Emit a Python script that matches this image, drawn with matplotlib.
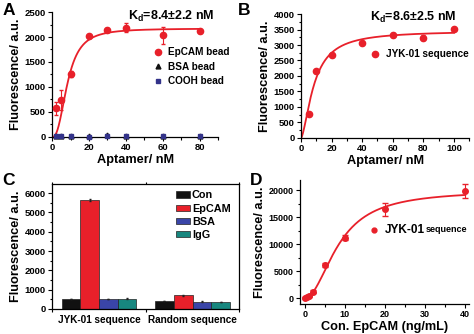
import numpy as np
import matplotlib
matplotlib.use("Agg")
import matplotlib.pyplot as plt
from matplotlib.ticker import MultipleLocator
from matplotlib.lines import Line2D

plt.rcParams['font.family'] = ['Liberation Sans', 'DejaVu Sans']
plt.rcParams['font.weight'] = 'bold'
plt.rcParams['mathtext.fontset'] = 'custom'
plt.rcParams['mathtext.rm'] = 'Liberation Sans:bold'
plt.rcParams['mathtext.bf'] = 'Liberation Sans:bold'

RED = '#e8202a'
NAVY = '#33338a'

# ---- Panel A data ----
a_x = [2, 5, 10, 20, 30, 40, 60, 80]
a_epcam = [570, 730, 1250, 2020, 2150, 2190, 2040, 2120]
a_epcam_err = [130, 200, 60, 30, 40, 90, 170, 30]
a_bsa = [15, 25, 20, 10, 30, 15, 15, 15]
a_cooh = [10, 15, 15, 5, 25, 10, 10, 10]
a_fit = dict(bmax=2170, kd=8.4, n=2.5)

# ---- Panel B data ----
b_x = [5, 10, 20, 40, 60, 80, 100]
b_y = [780, 2150, 2680, 3080, 3320, 3230, 3520]
b_err = [40, 40, 60, 60, 70, 80, 40]
b_fit = dict(bmax=3460, kd=8.6, n=1.6)

# ---- Panel C data ----
c_groups = ['JYK-01 sequence', 'Random sequence']
c_series = ['Con', 'EpCAM', 'BSA', 'IgG']
c_con = [520, 420]
c_epcam = [5650, 720]
c_bsa = [510, 380]
c_igg = [530, 370]
c_err = [[20, 15], [40, 25], [15, 15], [15, 15]]
c_colors = ['#111111', RED, '#3a45a8', '#17877f']

# ---- Panel D data ----
d_x = [0, 0.5, 1, 2, 5, 10, 20, 40]
d_y = [50, 150, 350, 1200, 6100, 11200, 16500, 19900]
d_err = [200, 200, 200, 250, 400, 500, 1200, 1300]
d_fit = dict(bmax=20000, kd=8.5, n=2.0)


def hill(x, bmax, kd, n):
    x = np.asarray(x, dtype=float)
    return bmax * x**n / (kd**n + x**n)


fig = plt.figure(figsize=(4.74, 3.34), dpi=100)

TICK = 6.8
LAB = 9.2


def style(ax, box=False, tick=TICK):
    ax.tick_params(direction='out', labelsize=tick, width=0.8, length=3, pad=1.5)
    ax.tick_params(which='minor', direction='out', width=0.8, length=1.8)
    for s in ['top', 'right']:
        ax.spines[s].set_visible(box)
    for s in ax.spines.values():
        s.set_linewidth(0.9)
    for lbl in ax.get_xticklabels() + ax.get_yticklabels():
        lbl.set_fontweight('bold')


# Panel A
axA = fig.add_axes([0.110, 0.590, 0.350, 0.374])
xs = np.linspace(0, 80, 300)
axA.plot(xs, hill(xs, **a_fit), color=RED, lw=1.3, zorder=2)
axA.errorbar(a_x, a_epcam, yerr=a_epcam_err, fmt='o', color=RED, ms=4.5,
             elinewidth=0.8, capsize=1.5, zorder=3)
axA.plot(a_x, a_bsa, '^', color='#111111', ms=3.5, zorder=3, clip_on=False)
axA.plot(a_x, a_cooh, 's', color=NAVY, ms=3, zorder=4, clip_on=False)
axA.set_xlim(0, 90)
axA.set_ylim(0, 2500)
axA.xaxis.set_major_locator(MultipleLocator(20))
axA.xaxis.set_minor_locator(MultipleLocator(10))
axA.yaxis.set_major_locator(MultipleLocator(500))
axA.yaxis.set_minor_locator(MultipleLocator(250))
axA.set_xlabel('Aptamer/ nM', fontsize=LAB, fontweight='bold', labelpad=1)
axA.set_ylabel('Fluorescence/ a.u.', fontsize=LAB, fontweight='bold', labelpad=2)
axA.text(0.46, 0.965, r'K$_\mathregular{d}$=8.4$\pm$2.2 nM', transform=axA.transAxes,
         fontsize=9, fontweight='bold', va='center')
hA = [Line2D([], [], ls='none', marker='o', color=RED, ms=4.5),
      Line2D([], [], ls='none', marker='^', color='#111111', ms=3.5),
      Line2D([], [], ls='none', marker='s', color=NAVY, ms=3)]
axA.legend(hA, ['EpCAM bead', 'BSA bead', 'COOH bead'], loc='upper left',
           bbox_to_anchor=(0.61, 0.72), frameon=False, borderpad=0, borderaxespad=0,
           handletextpad=0.5, labelspacing=0.45, handlelength=1.0,
           prop={'weight': 'bold', 'size': 7.2})
style(axA)
fig.text(0.005, 0.955, 'A', fontsize=12.5, fontweight='bold')

# Panel B
axB = fig.add_axes([0.635, 0.587, 0.355, 0.371])
xs = np.linspace(0, 100, 300)
axB.plot(xs, hill(xs, **b_fit), color=RED, lw=1.3, zorder=2)
axB.errorbar(b_x, b_y, yerr=b_err, fmt='o', color=RED, ms=4.5,
             elinewidth=0.8, capsize=1.5, zorder=3, clip_on=False)
axB.set_xlim(0, 110)
axB.set_ylim(0, 4000)
axB.xaxis.set_major_locator(MultipleLocator(20))
axB.xaxis.set_minor_locator(MultipleLocator(10))
axB.yaxis.set_major_locator(MultipleLocator(500))
axB.yaxis.set_minor_locator(MultipleLocator(250))
axB.set_xlabel('Aptamer/ nM', fontsize=LAB, fontweight='bold', labelpad=1)
axB.set_ylabel('Fluorescence/ a.u.', fontsize=LAB, fontweight='bold', labelpad=2)
axB.text(0.41, 0.97, r'K$_\mathregular{d}$=8.6$\pm$2.5 nM', transform=axB.transAxes,
         fontsize=9, fontweight='bold', va='center')
hB = [Line2D([], [], ls='none', marker='o', color=RED, ms=4.5)]
axB.legend(hB, ['JYK-01 sequence'], loc='upper left', bbox_to_anchor=(0.41, 0.715),
           frameon=False, borderpad=0, borderaxespad=0, handletextpad=0.6,
           handlelength=1.0, prop={'weight': 'bold', 'size': 7.2})
style(axB)
fig.text(0.502, 0.955, 'B', fontsize=12.5, fontweight='bold')

# Panel C
axC = fig.add_axes([0.110, 0.075, 0.395, 0.374])
vals = [c_con, c_epcam, c_bsa, c_igg]
gx = np.arange(len(c_groups))
w = 0.2
for i, (name, v, col) in enumerate(zip(c_series, vals, c_colors)):
    axC.bar(gx + (i - 1.5) * w, v, w, color=col, edgecolor='#222222', linewidth=0.5,
            yerr=c_err[i], ecolor='#222222', error_kw=dict(elinewidth=0.6, capsize=1),
            label=name)
axC.set_xlim(-0.5, 1.5)
axC.set_ylim(0, 6470)
axC.set_xticks(gx)
axC.set_xticklabels(c_groups)
axC.xaxis.set_minor_locator(MultipleLocator(0.5))
axC.yaxis.set_major_locator(MultipleLocator(1000))
axC.yaxis.set_minor_locator(MultipleLocator(500))
axC.set_ylabel('Fluorescence/ a.u.', fontsize=LAB, fontweight='bold', labelpad=2)
axC.legend(loc='upper left', bbox_to_anchor=(0.66, 0.95), frameon=False,
           borderpad=0, borderaxespad=0,
           handletextpad=0.2, handlelength=1.3, handleheight=0.5, labelspacing=0.3,
           prop={'weight': 'bold', 'size': 7.8})
style(axC, box=True)
axC.tick_params(axis='x', labelsize=7.2)
for lbl in axC.get_xticklabels():
    lbl.set_fontweight('bold')
axC.tick_params(axis='x', which='major', top=False, bottom=False)
axC.tick_params(axis='x', which='minor', top=True, bottom=True)
axC.tick_params(axis='y', which='both', right=False)
fig.text(0.005, 0.445, 'C', fontsize=12.5, fontweight='bold')

# Panel D
axD = fig.add_axes([0.633, 0.090, 0.357, 0.370])
xs = np.linspace(0, 40, 300)
axD.plot(xs, hill(xs, **d_fit), color=RED, lw=1.3, zorder=2)
axD.errorbar(d_x, d_y, yerr=d_err, fmt='o', color=RED, ms=4,
             elinewidth=0.8, capsize=2, zorder=3, clip_on=False)
axD.set_xlim(-1.2, 41)
axD.set_ylim(-1100, 21850)
axD.xaxis.set_major_locator(MultipleLocator(10))
axD.xaxis.set_minor_locator(MultipleLocator(5))
axD.yaxis.set_major_locator(MultipleLocator(5000))
axD.yaxis.set_minor_locator(MultipleLocator(2500))
axD.set_xlabel('Con. EpCAM (ng/mL)', fontsize=LAB, fontweight='bold', labelpad=1)
axD.set_ylabel('Fluorescence/ a.u.', fontsize=LAB, fontweight='bold', labelpad=2)
axD.plot([0.44], [0.60], 'o', color=RED, ms=3.5, transform=axD.transAxes)
axD.text(0.50, 0.60, 'JYK-01', transform=axD.transAxes, fontsize=8.5,
         fontweight='bold', va='center')
axD.text(0.745, 0.60, 'sequence', transform=axD.transAxes, fontsize=6.5,
         fontweight='bold', va='center')
style(axD, tick=6.5)
fig.text(0.528, 0.445, 'D', fontsize=12.5, fontweight='bold')

fig.savefig('out.png', dpi=100)
